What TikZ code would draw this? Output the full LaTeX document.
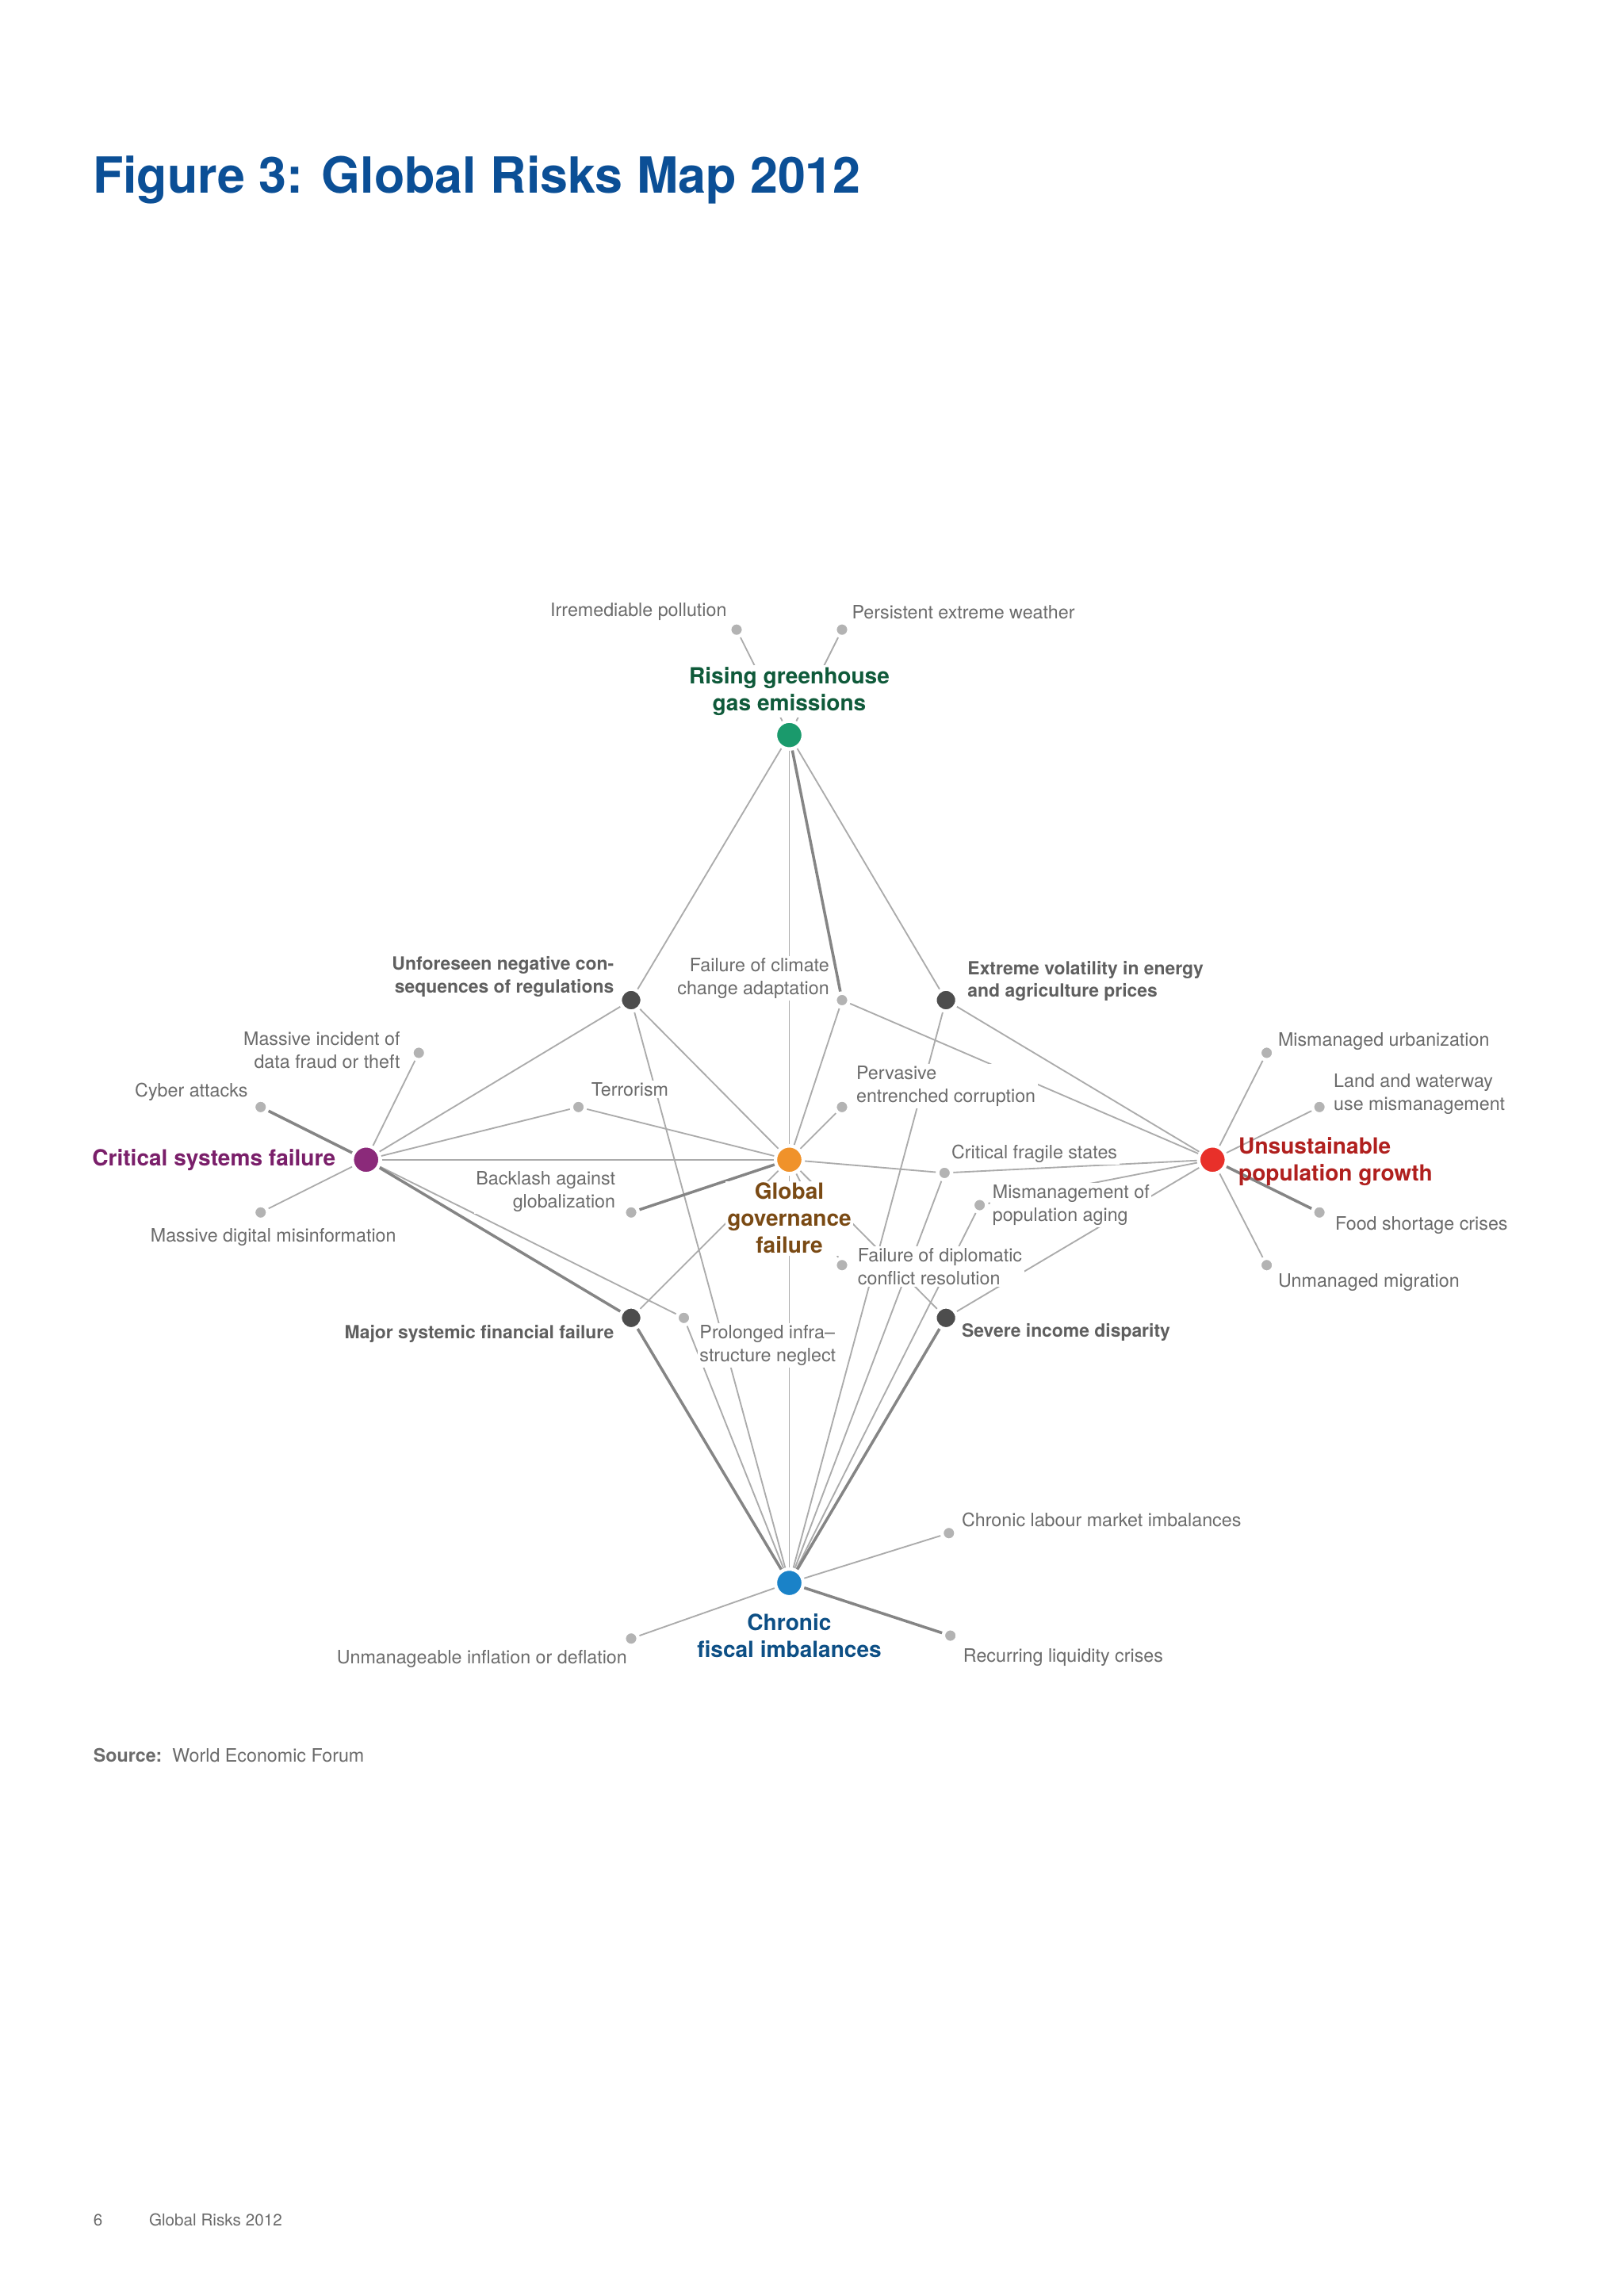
\documentclass[tikz,border=0pt]{standalone}
\usepackage{fontspec}
\setmainfont{TeX Gyre Heros}
\definecolor{ttl}{HTML}{0B4F96}
\definecolor{cgreen}{HTML}{1A9A6C}\definecolor{tgreen}{HTML}{0F5A3A}
\definecolor{cpurp}{HTML}{8B2A7A}\definecolor{tpurp}{HTML}{7A1F6A}
\definecolor{corange}{HTML}{F0922A}\definecolor{torange}{HTML}{7A4A14}
\definecolor{cred}{HTML}{E8302A}\definecolor{tred}{HTML}{B0201E}
\definecolor{cblue}{HTML}{1A82C8}\definecolor{tblue}{HTML}{0D4F85}
\definecolor{dk}{HTML}{4D4D4D}\definecolor{sm}{HTML}{B3B3B3}
\definecolor{txt}{HTML}{6B6B6B}\definecolor{ln}{HTML}{ABABAB}\definecolor{lnk}{HTML}{858585}
\tikzset{
 big/.style={circle,inner sep=0pt,minimum size=9.5pt,draw=white,line width=1.2pt},
 med/.style={circle,inner sep=0pt,minimum size=7.5pt,draw=white,line width=1.2pt,fill=dk},
 sml/.style={circle,inner sep=0pt,minimum size=4.8pt,draw=white,line width=1.2pt,fill=sm},
 lab/.style={font=\fontsize{6.3}{7.8}\selectfont,text=txt,inner sep=0.7pt,fill=white},
 blab/.style={font=\fontsize{6.2}{7.8}\selectfont\bfseries,text=dk!90,inner sep=0.7pt,fill=white},
 mlab/.style={font=\fontsize{7.6}{9.2}\selectfont\bfseries,inner sep=0.7pt,fill=white},
 thin/.style={draw=ln,line width=0.5pt},
 thk/.style={draw=lnk,line width=0.95pt}
}
\begin{document}
\begin{tikzpicture}[x=0.5pt,y=-0.5pt]
\useasboundingbox[fill=white] (0,0) rectangle (1108,1568);
\node[anchor=base west,text=ttl,inner sep=0pt,font=\fontsize{17}{20}\selectfont\bfseries] (title) at (63,132) {Figure 3: Global Risks Map 2012};
% main nodes
\node[big,fill=cgreen] (rg) at (539,502) {};
\node[big,fill=cpurp] (cs) at (250,792) {};
\node[big,fill=corange] (gg) at (539,792) {};
\node[big,fill=cred] (us) at (828,792) {};
\node[big,fill=cblue] (cf) at (539,1081) {};
\node[med] (un) at (431,683) {};
\node[med] (ev) at (646,683) {};
\node[med] (mf) at (431,900) {};
\node[med] (si) at (646,900) {};
% small nodes
\node[sml] (po) at (503,430) {};
\node[sml] (we) at (575,430) {};
\node[sml] (ca) at (575,683) {};
\node[sml] (df) at (286,719) {};
\node[sml] (cy) at (178,756) {};
\node[sml] (te) at (395,756) {};
\node[sml] (pc) at (575,756) {};
\node[sml] (bg) at (431,828) {};
\node[sml] (dm) at (178,828) {};
\node[sml] (fs) at (645,801) {};
\node[sml] (pa) at (669,823) {};
\node[sml] (dc) at (575,864) {};
\node[sml] (pi) at (467,900) {};
\node[sml] (ur) at (865,719) {};
\node[sml] (lw) at (901,756) {};
\node[sml] (fo) at (901,828) {};
\node[sml] (mi) at (865,864) {};
\node[sml] (lm) at (648,1047) {};
\node[sml] (in) at (431,1119) {};
\node[sml] (lq) at (649,1117) {};
% connectors
\draw[thin] (rg)--(po); \draw[thin] (rg)--(we);
\draw[thin] (rg)--(un); \draw[thin] (rg)--(gg); \draw[thk] (rg)--(ca); \draw[thin] (rg)--(ev);
\draw[thin] (ca)--(gg); \draw[thin] (ca)--(us); \draw[thin] (pc)--(gg);
\draw[thin] (un)--(cs); \draw[thin] (un)--(gg); \draw[thin] (un)--(cf);
\draw[thk] (cs)--(cy); \draw[thin] (cs)--(df); \draw[thin] (cs)--(dm);
\draw[thin] (cs)--(te); \draw[thin] (te)--(gg); \draw[thin] (cs)--(gg);
\draw[thin] (cs)--(pi); \draw[thk] (cs)--(mf);
\draw[thk] (gg)--(bg); \draw[thin] (gg)--(mf); \draw[thin] (gg)--(fs); \draw[thin] (gg)--(dc);
\draw[thin] (gg)--(si); \draw[thin] (gg)--(cf);
\draw[thin] (ev)--(us); \draw[thin] (ev)--(cf);
\draw[thin] (fs)--(us); \draw[thin] (fs)--(cf);
\draw[thin] (pa)--(us); \draw[thin] (pa)--(cf);
\draw[thin] (si)--(us); \draw[thk] (si)--(cf);
\draw[thk] (mf)--(cf); \draw[thin] (pi)--(cf);
\draw[thin] (us)--(ur); \draw[thin] (us)--(lw); \draw[thk] (us)--(fo); \draw[thin] (us)--(mi);
\draw[thin] (cf)--(lm); \draw[thin] (cf)--(in); \draw[thk] (cf)--(lq);
% labels
\node[mlab,text=tgreen,align=center] (lrg) at (539,472) {Rising greenhouse\\gas emissions};
\node[lab,anchor=east] (lpo) at (498,418) {Irremediable pollution};
\node[lab,anchor=west] (lwe) at (580,418) {Persistent extreme weather};
\node[blab,anchor=east,align=right] (lun) at (421,667) {Unforeseen negative con-\\sequences of regulations};
\node[lab,anchor=east,align=right] (lca) at (568,668) {Failure of climate\\change adaptation};
\node[blab,anchor=west,align=left] (lev) at (659,670) {Extreme volatility in energy\\and agriculture prices};
\node[lab,anchor=east,align=right] (ldf) at (275,717) {Massive incident of\\data fraud or theft};
\node[lab,anchor=east] (lcy) at (171,746) {Cyber attacks};
\node[lab,anchor=west] (lte) at (402,744) {Terrorism};
\node[lab,anchor=west,align=left] (lpc) at (583,742) {Pervasive\\entrenched corruption};
\node[mlab,anchor=east,text=tpurp,fill=none] (lcs) at (231,792) {Critical systems failure};
\node[mlab,text=torange,align=center] (lgg) at (539,832) {Global\\governance\\failure};
\node[lab,anchor=east,align=right] (lbg) at (422,814) {Backlash against\\globalization};
\node[lab,anchor=west] (ldm) at (101,845) {Massive digital misinformation};
\node[lab,anchor=west] (lfs) at (648,788) {Critical fragile states};
\node[lab,anchor=west,align=left] (lpa) at (676,823) {Mismanagement of\\population aging};
\node[lab,anchor=west,align=left] (ldc) at (584,865) {Failure of diplomatic\\conflict resolution};
\node[blab,anchor=east] (lmf) at (421,911) {Major systemic financial failure};
\node[lab,anchor=west,align=left] (lpi) at (476,919) {Prolonged infra--\\structure neglect};
\node[blab,anchor=west] (lsi) at (655,910) {Severe income disparity};
\node[mlab,anchor=west,align=left,text=tred,fill=none] (lus) at (844,793) {Unsustainable\\population growth};
\node[lab,anchor=west] (lur) at (871,711) {Mismanaged urbanization};
\node[lab,anchor=west,align=left] (llw) at (909,747) {Land and waterway\\use mismanagement};
\node[lab,anchor=west] (lfo) at (910,837) {Food shortage crises};
\node[lab,anchor=west] (lmi) at (871,876) {Unmanaged migration};
\node[lab,anchor=west] (llm) at (655,1038) {Chronic labour market imbalances};
\node[mlab,text=tblue,align=center,fill=none] (lcf) at (539,1117) {Chronic\\fiscal imbalances};
\node[lab,anchor=east] (lin) at (430,1133) {Unmanageable inflation or deflation};
\node[lab,anchor=west] (llq) at (656,1132) {Recurring liquidity crises};
\node[lab,anchor=west] (src) at (62,1199) {\textbf{Source:}\ \ World Economic Forum};
\node[lab,anchor=west,font=\fontsize{5.6}{7}\selectfont] (pg) at (62,1516) {6};
\node[lab,anchor=west,font=\fontsize{5.6}{7}\selectfont] (ft) at (100,1516) {Global Risks 2012};
\end{tikzpicture}
\end{document}
